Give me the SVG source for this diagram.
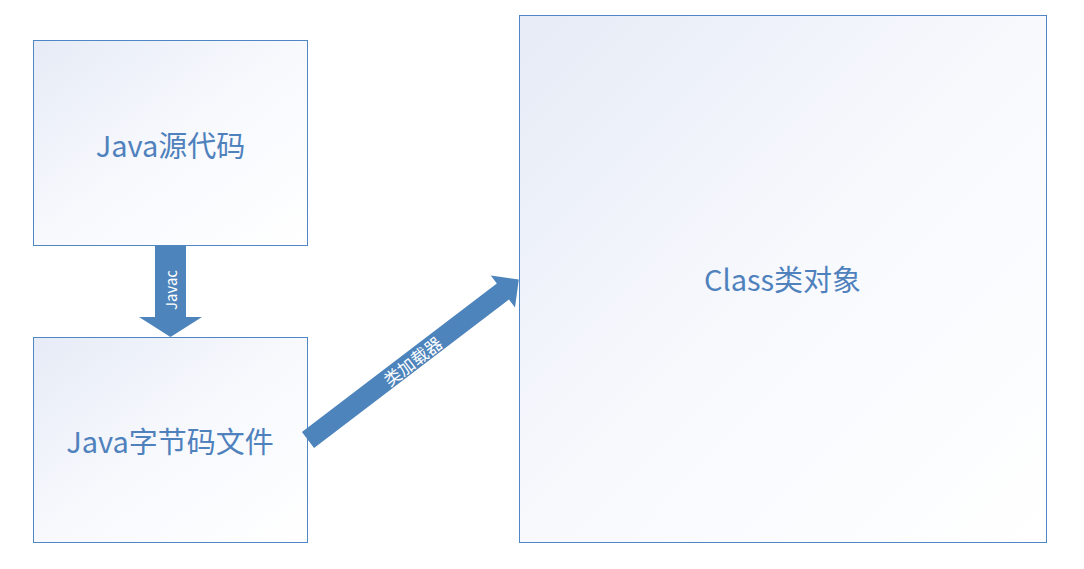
<svg xmlns="http://www.w3.org/2000/svg" width="1084" height="569" viewBox="0 0 1084 569">
<defs>
<linearGradient id="g" x1="0" y1="0" x2="1" y2="1">
<stop offset="0" stop-color="#e6ebf6"/>
<stop offset="0.5" stop-color="#f7f9fd"/>
<stop offset="1" stop-color="#ffffff"/>
</linearGradient>
<style>
.box{fill:url(#g);stroke:#4f86c3;stroke-width:1}
.lbl{font-family:"Noto Sans CJK SC","Noto Sans",sans-serif;font-size:29px;fill:#4f81bd;text-anchor:middle;dominant-baseline:central}
.arr{fill:#4d84bb}
.al{font-family:"Noto Sans CJK SC","Noto Sans",sans-serif;fill:#ffffff;text-anchor:middle;dominant-baseline:central}
</style>
</defs>
<rect width="1084" height="569" fill="#ffffff"/>
<g id="node-source">
<rect class="box" x="33.5" y="40.5" width="274" height="205"/>
<text class="lbl" x="170.5" y="144">Java源代码</text>
</g>
<g id="node-bytecode">
<rect class="box" x="33.5" y="337.5" width="274" height="205"/>
<text class="lbl" x="170" y="440">Java字节码文件</text>
</g>
<g id="node-class">
<rect class="box" x="519.5" y="15.5" width="527" height="527"/>
<text class="lbl" x="782.5" y="278">Class类对象</text>
</g>
<g id="connectors">
<g id="edge-javac">
<polygon class="arr" points="155,246 186,246 186,317 202,317 170.5,337 139,317 155,317"/>
<text class="al" font-size="15" transform="translate(170.5,290) rotate(-90)">Javac</text>
</g>
<g id="edge-loader" transform="translate(308,440) rotate(-37.3)">
<polygon class="arr" points="0,-10 245,-10 245,-20 265,0 245,20 245,10 0,10"/>
<text class="al" font-size="17" x="131" y="0">类加载器</text>
</g>
</g>
</svg>
